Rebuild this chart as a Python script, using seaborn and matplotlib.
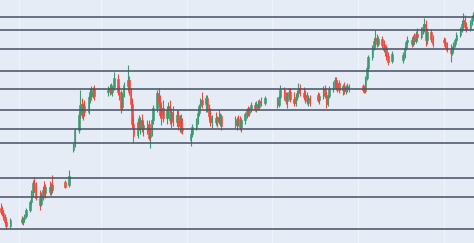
import numpy as np
import pandas as pd
import matplotlib
matplotlib.use("Agg")
import matplotlib.pyplot as plt
import matplotlib.dates as mdates
import seaborn as sns

# trading segments (business days inside each range)
segment_start = ["2022-12-19", "2023-01-03", "2023-02-03", "2023-02-09", "2023-03-06", "2023-05-04",
                 "2023-06-05", "2023-07-05", "2023-08-03", "2023-09-04", "2023-10-03", "2023-11-01"]
segment_end = ["2022-12-26", "2023-01-25", "2023-02-06", "2023-02-24", "2023-04-28", "2023-05-26",
               "2023-06-26", "2023-07-28", "2023-08-25", "2023-09-25", "2023-10-24", "2023-11-22"]

open_prices = [
    35, 33, 30, 26, 21, 17,
    24, 21, 24, 27, 33, 41, 51, 60, 53, 45, 39, 48, 53, 50, 56, 51, 58,
    61, 58,
    93, 98, 113, 128, 139, 130, 137, 131, 146, 151, 147, 154,
    151, 153, 155, 151, 156, 164, 151, 146, 136, 149, 157, 163, 151, 139, 119, 108, 121, 116, 123, 114,
    118, 119, 106, 110, 123, 135, 150, 141, 128, 135, 125, 133, 137, 123, 131, 121, 128, 117, 124, 115,
    103, 109, 116, 122, 130, 137, 143, 139, 145, 134, 127, 121, 125, 121, 126, 122, 127,
    123, 118, 124, 120, 116, 123, 129, 133, 130, 134, 138, 134, 139, 136, 142, 140,
    143, 138, 146, 153, 146, 142, 148, 151, 144, 140, 146, 150, 155, 150, 146, 148, 142, 145,
    148, 143, 147, 154, 148, 139, 147, 154, 159, 163, 156, 160, 153, 157, 152, 156, 154,
    157, 155, 152, 165, 175, 186, 195, 202, 205, 199, 204, 198, 193, 196, 187, 182,
    183, 188, 195, 201, 203, 199, 206, 202, 209, 206, 213, 216, 219, 203, 211, 204,
    203, 201, 197, 193, 190, 195, 199, 203, 208, 213, 219, 223, 216, 214, 220, 225,
]
high_prices = [
    40, 37, 33, 29, 24, 25,
    27, 26, 29, 35, 43, 53, 63, 66, 61, 53, 51, 57, 62, 59, 62, 60, 68,
    63, 73,
    100, 115, 131, 153, 145, 140, 143, 148, 155, 157, 156, 158,
    157, 159, 160, 158, 171, 169, 158, 153, 151, 161, 178, 167, 155, 145, 128, 125, 128, 126, 129, 122,
    123, 123, 115, 125, 138, 153, 155, 148, 139, 143, 137, 141, 143, 135, 137, 133, 133, 128, 129, 125,
    113, 119, 125, 133, 139, 145, 151, 148, 148, 139, 135, 128, 131, 127, 133, 130, 129,
    127, 126, 128, 127, 125, 131, 135, 137, 136, 141, 141, 142, 143, 144, 146, 147,
    146, 148, 158, 156, 151, 151, 155, 155, 151, 149, 153, 160, 159, 156, 153, 151, 148, 148,
    151, 150, 157, 158, 151, 149, 157, 162, 166, 166, 163, 163, 159, 161, 158, 160, 159,
    159, 158, 167, 177, 188, 198, 205, 213, 209, 207, 207, 203, 199, 198, 191, 192,
    191, 197, 203, 207, 206, 208, 210, 212, 215, 216, 219, 225, 223, 215, 214, 208,
    206, 205, 201, 199, 197, 201, 205, 211, 216, 223, 230, 228, 221, 223, 228, 231,
]
low_prices = [
    29, 27, 23, 19, 14, 15,
    19, 18, 21, 25, 31, 39, 46, 51, 43, 33, 37, 43, 47, 45, 48, 48, 50,
    55, 56,
    91, 96, 110, 125, 125, 123, 127, 129, 140, 143, 145, 143,
    147, 148, 149, 147, 153, 148, 143, 130, 133, 146, 153, 148, 135, 115, 100, 105, 113, 109, 111, 107,
    109, 103, 95, 107, 119, 131, 137, 125, 118, 121, 119, 125, 119, 115, 117, 117, 113, 111, 110, 109,
    97, 106, 113, 119, 127, 134, 135, 131, 131, 123, 117, 115, 118, 116, 119, 117, 113,
    115, 113, 117, 113, 111, 119, 125, 127, 127, 131, 132, 131, 133, 134, 137, 138,
    135, 136, 144, 143, 139, 135, 143, 141, 137, 137, 143, 147, 147, 143, 140, 139, 137, 137,
    141, 139, 144, 145, 135, 137, 145, 151, 155, 153, 151, 150, 148, 149, 149, 151, 151,
    151, 150, 150, 163, 172, 183, 193, 197, 196, 197, 195, 191, 187, 183, 178, 180,
    180, 185, 193, 198, 196, 197, 199, 200, 203, 204, 209, 211, 197, 199, 201, 196,
    199, 195, 191, 181, 188, 192, 196, 201, 206, 211, 215, 213, 211, 212, 218, 222,
]
close_prices = [
    31, 29, 25, 21, 17, 23,
    21, 25, 27, 33, 41, 51, 60, 53, 45, 38, 48, 53, 50, 56, 51, 58, 53,
    56, 67,
    98, 113, 128, 138, 130, 137, 131, 146, 151, 147, 154, 147,
    153, 155, 151, 156, 165, 151, 146, 135, 149, 158, 163, 151, 139, 119, 107, 121, 116, 123, 114, 118,
    112, 105, 110, 123, 135, 150, 141, 128, 135, 125, 133, 137, 123, 131, 121, 128, 117, 124, 115, 113,
    109, 116, 122, 130, 137, 143, 139, 145, 134, 127, 121, 125, 121, 126, 122, 127, 117,
    118, 124, 120, 116, 123, 129, 133, 130, 134, 138, 134, 139, 136, 142, 140, 145,
    138, 146, 153, 146, 142, 148, 151, 144, 140, 146, 150, 155, 150, 146, 148, 142, 145, 140,
    143, 147, 154, 148, 139, 147, 154, 159, 163, 156, 160, 153, 157, 152, 156, 154, 157,
    153, 152, 165, 175, 186, 195, 202, 205, 199, 204, 198, 193, 196, 187, 181, 189,
    188, 195, 201, 203, 199, 206, 202, 209, 206, 213, 216, 219, 203, 211, 204, 199,
    201, 197, 193, 190, 195, 199, 203, 208, 213, 219, 223, 216, 214, 220, 225, 227,
]

# horizontal support / resistance levels
levels = [226, 212.7, 194.3, 171.7, 153.7, 132.7, 113.7, 99.7, 65.3, 46.3, 13.7]
# bi-monthly date ticks (grid only)
tick_dates = ["2023-01-01", "2023-03-01", "2023-05-01", "2023-07-01", "2023-09-01", "2023-11-01"]

dates = pd.DatetimeIndex(np.concatenate(
    [pd.bdate_range(s, e).values for s, e in zip(segment_start, segment_end)]))
df = pd.DataFrame({"date": dates, "open": open_prices, "high": high_prices,
                   "low": low_prices, "close": close_prices})
df["up"] = df["close"] >= df["open"]

sns.set_theme(style="darkgrid", rc={"axes.facecolor": "#E5ECF6", "figure.facecolor": "#E5ECF6",
                                    "grid.color": "#f0f4fa"})

fig = plt.figure(figsize=(4.74, 2.43), dpi=100)
ax = fig.add_axes([0, 0, 1, 1])

x = mdates.date2num(df["date"])
inc, dec = "#3D9970", "#F04A3C"
colors = np.where(df["up"], inc, dec)
ax.vlines(x, df["low"], df["high"], colors=colors, lw=0.8, zorder=2)
body = np.maximum((df["close"] - df["open"]).abs(), 0.8)
bottom = np.minimum(df["open"], df["close"])
ax.bar(x, body, bottom=bottom, width=1.1, color=colors, edgecolor=colors,
       linewidth=0.6, alpha=0.8, zorder=3)

for lv in levels:
    ax.axhline(lv, color="#4d5668", lw=1.15, zorder=5)

ax.set_xlim(mdates.date2num(pd.Timestamp("2022-12-18 14:00")),
            mdates.date2num(pd.Timestamp("2023-11-22 16:00")))
ax.set_ylim(0, 243)
ax.set_xticks(mdates.date2num(pd.to_datetime(tick_dates)))
ax.set_yticks([])
ax.tick_params(labelbottom=False, labelleft=False, length=0)
ax.grid(True, axis="x", color="#f0f4fa", lw=0.9)
ax.grid(False, axis="y")
for s in ax.spines.values():
    s.set_visible(False)

fig.savefig("out.png", dpi=100)
